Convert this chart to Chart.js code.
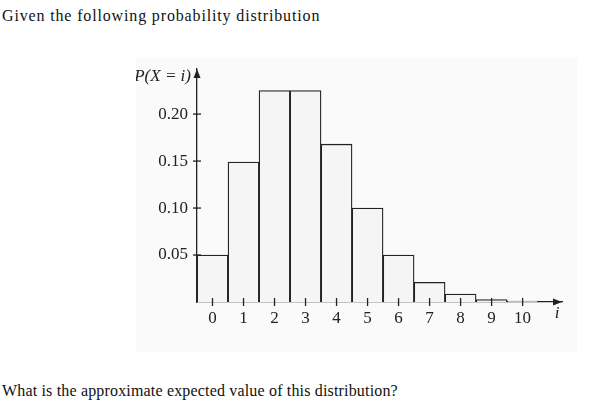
<!DOCTYPE html>
<html>
<head>
<meta charset="utf-8">
<script src="https://cdn.jsdelivr.net/npm/chart.js@4.4.1/dist/chart.umd.min.js"></script>
<style>
  body { margin: 0; background: #fff; width: 591px; height: 410px; position: relative; overflow: hidden; }
  .q { position: absolute; left: 2px; font-family: "Liberation Serif", serif; font-size: 16px; line-height: 20px; color: #111; white-space: nowrap; }
  #paper { position: absolute; left: 136px; top: 58px; width: 441px; height: 294px; background: #fafafa; }
  #chart { position: absolute; left: 136px; top: 58px; }
</style>
</head>
<body>
<div class="q" style="top:6px; letter-spacing:0.85px">Given the following probability distribution</div>
<div id="paper"></div>
<canvas id="chart" width="441" height="294"></canvas>
<div class="q" style="top:381px; letter-spacing:0.17px">What is the approximate expected value of this distribution?</div>
<script>
// values of i and P(X = i)
const outcomes = [0, 1, 2, 3, 4, 5, 6, 7, 8, 9, 10];
const probs = [0.05, 0.149, 0.225, 0.225, 0.168, 0.100, 0.050, 0.021, 0.0085, 0.0025, 0.001];
const yTicks = [0.05, 0.10, 0.15, 0.20];

const ink = '#222';
const serif = '"Liberation Serif", serif';

// tick marks that cross the axes, arrowheads and axis labels
const axisDeco = {
  id: 'axisDeco',
  afterDatasetsDraw(chart) {
    const ctx = chart.ctx;
    const xs = chart.scales.x, ys = chart.scales.y;
    const x0 = xs.left, y0 = ys.bottom;
    ctx.save();
    ctx.strokeStyle = ink;
    ctx.fillStyle = ink;
    ctx.lineWidth = 1.3;
    yTicks.forEach(v => {
      const py = ys.getPixelForValue(v);
      ctx.beginPath(); ctx.moveTo(x0 - 4, py); ctx.lineTo(x0 + 4, py); ctx.stroke();
    });
    outcomes.forEach(v => {
      const px = xs.getPixelForValue(v);
      ctx.beginPath(); ctx.moveTo(px, y0 - 4); ctx.lineTo(px, y0 + 4); ctx.stroke();
    });
    // arrowheads
    ctx.beginPath();
    ctx.moveTo(x0, ys.top); ctx.lineTo(x0 - 3.5, ys.top + 9); ctx.lineTo(x0 + 3.5, ys.top + 9); ctx.closePath(); ctx.fill();
    ctx.beginPath();
    ctx.moveTo(xs.right, y0); ctx.lineTo(xs.right - 9, y0 - 3.5); ctx.lineTo(xs.right - 9, y0 + 3.5); ctx.closePath(); ctx.fill();
    // axis labels
    ctx.font = 'italic 17px ' + serif;
    ctx.textAlign = 'right';
    ctx.textBaseline = 'alphabetic';
    ctx.fillText('P(X = i)', x0 - 6, ys.top + 12);
    ctx.textAlign = 'center';
    ctx.fillText('i', xs.right - 5, y0 + 16);
    ctx.restore();
  }
};

new Chart(document.getElementById('chart'), {
  type: 'bar',
  data: {
    datasets: [{
      data: outcomes.map((v, i) => ({ x: v, y: probs[i] })),
      backgroundColor: '#f5f5f5',
      borderColor: ink,
      borderWidth: 1.3,
      barPercentage: 1,
      categoryPercentage: 1
    }]
  },
  options: {
    responsive: false,
    animation: false,
    layout: { padding: { left: 0, top: 11, right: 15, bottom: 0 } },
    plugins: { legend: { display: false }, tooltip: { enabled: false } },
    scales: {
      x: {
        type: 'linear',
        offset: false,
        min: -0.5,
        max: 11.27,
        grid: { display: false, drawTicks: false },
        border: { display: true, color: ink, width: 1.3 },
        ticks: {
          stepSize: 1,
          includeBounds: false,
          autoSkip: false,
          maxRotation: 0,
          padding: 6,
          color: ink,
          font: { family: serif, size: 17 },
          callback: v => (v >= 0 && v <= 10) ? String(v) : ''
        },
        afterFit: s => { s.height = 50; s.paddingLeft = 0; s.paddingRight = 0; }
      },
      y: {
        min: 0,
        max: 0.248,
        grid: { display: false, drawTicks: false },
        border: { display: true, color: ink, width: 1.3 },
        ticks: {
          stepSize: 0.05,
          includeBounds: false,
          padding: 9,
          color: ink,
          font: { family: serif, size: 17 },
          callback: v => v > 0 ? v.toFixed(2) : ''
        },
        afterFit: s => { s.width = 61; s.paddingTop = 0; s.paddingBottom = 0; }
      }
    }
  },
  plugins: [axisDeco]
});
</script>
</body>
</html>
